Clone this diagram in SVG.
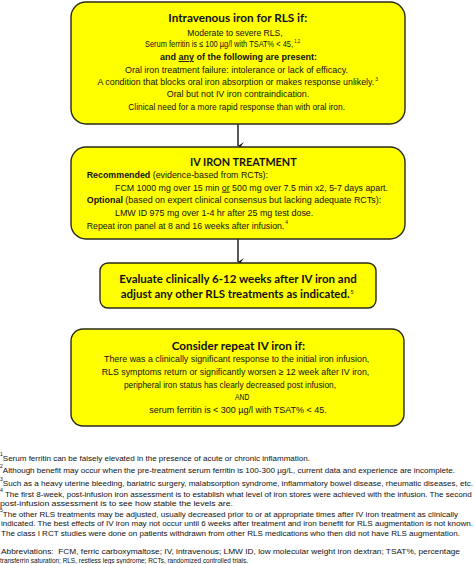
<svg xmlns="http://www.w3.org/2000/svg" width="474" height="564" viewBox="0 0 474 564">
<style>
.box{fill:#FFFF00;stroke:#2a2a1a;stroke-width:1.4}
.t{font-family:"Liberation Sans",Arial,sans-serif;font-size:9px;fill:#111}
.h{font-family:Lato,"Open Sans",sans-serif;font-weight:700;font-size:11.5px;fill:#111}
.b{font-weight:bold}
.fn{font-family:"Liberation Sans",Arial,sans-serif;font-size:8px;fill:#111}
.s{font-family:"Liberation Sans",Arial,sans-serif;font-size:5px;font-weight:normal}
.conn{stroke:#111;stroke-width:1.4;fill:none}
</style>
<defs>
<marker id="arr" markerUnits="userSpaceOnUse" markerWidth="10" markerHeight="8" refX="5" refY="6" orient="auto-start-reverse" viewBox="0 0 10 8">
<path d="M1,0 L5,6 L9,0 L5,3 Z" fill="#111"/>
</marker>
</defs>
<g id="connectors">
<line class="conn" x1="238" y1="124" x2="238" y2="146" marker-end="url(#arr)"/>
<line class="conn" x1="238" y1="239" x2="238" y2="262" marker-end="url(#arr)"/>
</g>
<g id="node-intravenous">
<rect class="box" x="71" y="2" width="334" height="122" rx="15"/>
<text class="h" x="168.3" y="22" textLength="139" lengthAdjust="spacingAndGlyphs">Intravenous iron for RLS if:</text>
<text class="t" x="187.3" y="35.7" textLength="95.4" lengthAdjust="spacingAndGlyphs">Moderate to severe RLS,</text>
<text class="t" x="145" y="47.3" textLength="155" lengthAdjust="spacingAndGlyphs">Serum ferritin is ≤ 100 µg/l with TSAT% &lt; 45,<tspan class="s" dx="1.5" dy="-4.5">1,2</tspan></text>
<text class="t b" x="160" y="60" textLength="157" lengthAdjust="spacingAndGlyphs">and <tspan text-decoration="underline">any</tspan> of the following are present:</text>
<text class="t" x="125" y="72.7" textLength="223" lengthAdjust="spacingAndGlyphs">Oral iron treatment failure: intolerance or lack of efficacy.</text>
<text class="t" x="97.5" y="85" textLength="280.5" lengthAdjust="spacingAndGlyphs">A condition that blocks oral iron absorption or makes response unlikely.<tspan class="s" dx="1" dy="-4.5">3</tspan></text>
<text class="t" x="166.7" y="97.3" textLength="142.6" lengthAdjust="spacingAndGlyphs">Oral but not IV iron contraindication.</text>
<text class="t" x="128.3" y="110" textLength="216.7" lengthAdjust="spacingAndGlyphs">Clinical need for a more rapid response than with oral iron.</text>
</g>
<g id="node-treatment">
<rect class="box" x="71" y="147" width="334" height="92" rx="15"/>
<text class="h" x="190" y="166" textLength="106.7" lengthAdjust="spacingAndGlyphs">IV IRON TREATMENT</text>
<text class="t" x="86.7" y="178.3" textLength="181.3" lengthAdjust="spacingAndGlyphs"><tspan class="b">Recommended</tspan> (evidence-based from RCTs):</text>
<text class="t" x="115" y="190.7" textLength="273" lengthAdjust="spacingAndGlyphs">FCM 1000 mg over 15 min <tspan text-decoration="underline">or</tspan> 500 mg over 7.5 min x2, 5-7 days apart.</text>
<text class="t" x="86.7" y="203.3" textLength="294.5" lengthAdjust="spacingAndGlyphs"><tspan class="b">Optional</tspan> (based on expert clinical consensus but lacking adequate RCTs):</text>
<text class="t" x="115" y="216" textLength="198.3" lengthAdjust="spacingAndGlyphs">LMW ID 975 mg over 1-4 hr after 25 mg test dose.</text>
<text class="t" x="86.7" y="228.7" textLength="201.3" lengthAdjust="spacingAndGlyphs">Repeat iron panel at 8 and 16 weeks after infusion.<tspan class="s" dx="1" dy="-4.5">4</tspan></text>
</g>
<g id="node-evaluate">
<rect class="box" x="100" y="263" width="276" height="45" rx="8"/>
<text class="h" x="119.3" y="283.3" textLength="237.4" lengthAdjust="spacingAndGlyphs">Evaluate clinically 6-12 weeks after IV iron and</text>
<text class="h" x="120.7" y="298" textLength="232.8" lengthAdjust="spacingAndGlyphs">adjust any other RLS treatments as indicated.<tspan class="s" dx="1" dy="-4.5">5</tspan></text>
</g>
<g id="node-repeat">
<rect class="box" x="71" y="329" width="333" height="97" rx="12"/>
<text class="h" x="171.7" y="350" textLength="133.3" lengthAdjust="spacingAndGlyphs">Consider repeat IV iron if:</text>
<text class="t" x="104" y="362" textLength="265.3" lengthAdjust="spacingAndGlyphs">There was a clinically significant response to the initial iron infusion,</text>
<text class="t" x="101.7" y="375" textLength="267.6" lengthAdjust="spacingAndGlyphs">RLS symptoms return or significantly worsen ≥ 12 week after IV iron,</text>
<text class="t" x="124" y="388" textLength="212" lengthAdjust="spacingAndGlyphs">peripheral iron status has clearly decreased post infusion,</text>
<text class="t" x="235" y="399.7" textLength="14.3" lengthAdjust="spacingAndGlyphs">AND</text>
<text class="t" x="149.3" y="412.5" textLength="177.4" lengthAdjust="spacingAndGlyphs">serum ferritin is &lt; 300 µg/l with TSAT% &lt; 45.</text>
</g>
<g id="footnotes">
<text class="fn" x="0" y="461" textLength="310" lengthAdjust="spacingAndGlyphs"><tspan class="s" dy="-5">1</tspan><tspan dy="5">Serum ferritin can be falsely elevated in the presence of acute or chronic inflammation.</tspan></text>
<text class="fn" x="0" y="473.3" textLength="455" lengthAdjust="spacingAndGlyphs"><tspan class="s" dy="-5">2</tspan><tspan dy="5">Although benefit may occur when the pre-treatment serum ferritin is 100-300 µg/L, current data and experience are incomplete.</tspan></text>
<text class="fn" x="0" y="485.7" textLength="473" lengthAdjust="spacingAndGlyphs"><tspan class="s" dy="-5">3</tspan><tspan dy="5">Such as a heavy uterine bleeding, bariatric surgery, malabsorption syndrome, inflammatory bowel disease, rheumatic diseases, etc.</tspan></text>
<text class="fn" x="0" y="497.3" textLength="471.7" lengthAdjust="spacingAndGlyphs"><tspan class="s" dy="-5">4</tspan><tspan dy="5"> The first 8-week, post-infusion iron assessment is to establish what level of iron stores were achieved with the infusion. The second</tspan></text>
<text class="fn" x="0" y="506" textLength="233" lengthAdjust="spacingAndGlyphs">post-infusion assessment is to see how stable the levels are.</text>
<text class="fn" x="0" y="516.7" textLength="458" lengthAdjust="spacingAndGlyphs"><tspan class="s" dy="-5">5</tspan><tspan dy="5">The other RLS treatments may be adjusted, usually decreased prior to or at appropriate times after IV iron treatment as clinically</tspan></text>
<text class="fn" x="1" y="526.3" textLength="472" lengthAdjust="spacingAndGlyphs">indicated. The best effects of IV iron may not occur until 6 weeks after treatment and iron benefit for RLS augmentation is not known.</text>
<text class="fn" x="1" y="535.8" textLength="459" lengthAdjust="spacingAndGlyphs">The class I RCT studies were done on patients withdrawn from other RLS medications who then did not have RLS augmentation.</text>
<text class="fn" x="1" y="554" textLength="459" lengthAdjust="spacingAndGlyphs" xml:space="preserve">Abbreviations:  FCM, ferric carboxymaltose; IV, intravenous; LMW ID, low molecular weight iron dextran; TSAT%, percentage</text>
<text class="fn" x="0" y="563.3" textLength="248" lengthAdjust="spacingAndGlyphs">transferrin saturation; RLS, restless legs syndrome; RCTs, randomized controlled trials.</text>
</g>
</svg>
